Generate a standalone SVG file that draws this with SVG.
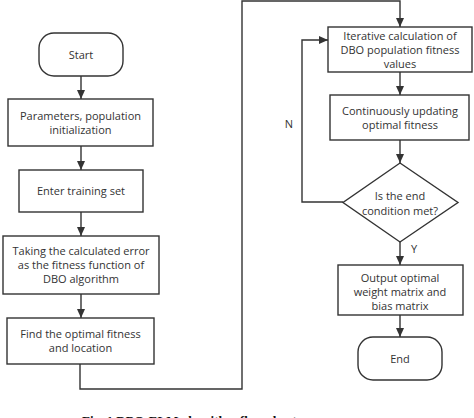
<svg xmlns="http://www.w3.org/2000/svg" width="474" height="418" viewBox="0 0 474 418">
<defs>
<style>
.box{fill:#fff;stroke:#333;stroke-width:1.4}
.ln{fill:none;stroke:#333;stroke-width:1.4}
.t{font-family:"Open Sans","Noto Sans",sans-serif;font-size:11px;fill:#333;text-anchor:middle}
.cap{font-family:"Liberation Serif",serif;font-size:13px;font-weight:bold;fill:#111}
</style>
<marker id="ah" markerWidth="10" markerHeight="10" refX="9" refY="4" orient="auto" markerUnits="userSpaceOnUse">
<path d="M0,0 L9,4 L0,8 z" fill="#333"/>
</marker>
</defs>
<rect width="474" height="418" fill="#fff"/>
<g id="connectors">
<path class="ln" d="M81,76 V99" marker-end="url(#ah)"/>
<path class="ln" d="M81,146 V170" marker-end="url(#ah)"/>
<path class="ln" d="M81,212 V236" marker-end="url(#ah)"/>
<path class="ln" d="M81,294 V318" marker-end="url(#ah)"/>
<path class="ln" d="M80,364 V389 H242 V1 H400 V27" marker-end="url(#ah)"/>
<path class="ln" d="M400,72 V95" marker-end="url(#ah)"/>
<path class="ln" d="M400,140 V163" marker-end="url(#ah)"/>
<path class="ln" d="M343,202 H302 V40 H328" marker-end="url(#ah)"/>
<path class="ln" d="M400,242 V265" marker-end="url(#ah)"/>
<path class="ln" d="M400,315 V337" marker-end="url(#ah)"/>
<text class="t" x="289" y="128">N</text>
<text class="t" x="414" y="253">Y</text>
</g>
<g id="start">
<rect class="box" x="39" y="33" width="84" height="43" rx="15"/>
<text class="t" x="81" y="58.5">Start</text>
</g>
<g id="init">
<rect class="box" x="8" y="99" width="145" height="47"/>
<text class="t" x="80.5" y="120">Parameters, population</text>
<text class="t" x="80.5" y="134">initialization</text>
</g>
<g id="training">
<rect class="box" x="19" y="170" width="124" height="42"/>
<text class="t" x="81" y="195">Enter training set</text>
</g>
<g id="fitfunc">
<rect class="box" x="3" y="236" width="156" height="58"/>
<text class="t" x="81" y="255">Taking the calculated error</text>
<text class="t" x="81" y="269">as the fitness function of</text>
<text class="t" x="81" y="283">DBO algorithm</text>
</g>
<g id="findopt">
<rect class="box" x="7" y="318" width="147" height="46"/>
<text class="t" x="80.5" y="338">Find the optimal fitness</text>
<text class="t" x="80.5" y="352">and location</text>
</g>
<g id="iterative">
<rect class="box" x="328" y="27" width="144" height="45"/>
<text class="t" x="400" y="39.5">Iterative calculation of</text>
<text class="t" x="400" y="53.5">DBO population fitness</text>
<text class="t" x="400" y="67.5">values</text>
</g>
<g id="updating">
<rect class="box" x="330" y="95" width="139" height="45"/>
<text class="t" x="400" y="115">Continuously updating</text>
<text class="t" x="400" y="129">optimal fitness</text>
</g>
<g id="decision">
<path class="box" d="M400,163 L458,202.5 L400,242 L343,202.5 z"/>
<text class="t" x="400" y="200">Is the end</text>
<text class="t" x="400" y="214.5">condition met?</text>
</g>
<g id="output">
<rect class="box" x="338" y="265" width="125" height="50"/>
<text class="t" x="400" y="282">Output optimal</text>
<text class="t" x="400" y="296">weight matrix and</text>
<text class="t" x="400" y="310">bias matrix</text>
</g>
<g id="end">
<rect class="box" x="358" y="337" width="84" height="43" rx="15"/>
<text class="t" x="400" y="362.5">End</text>
</g>
<text class="cap" x="82" y="425">Fig. 1  DBO-ELM algorithm flow chart</text>
</svg>
